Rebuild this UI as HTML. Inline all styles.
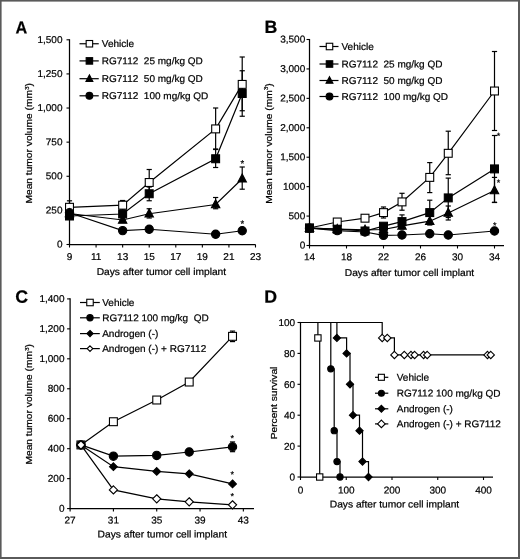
<!DOCTYPE html>
<html lang="en"><head><meta charset="utf-8"><title>Figure</title>
<style>
html,body{margin:0;padding:0;background:#fff;}
body{width:520px;height:559px;overflow:hidden;position:relative;}
svg{display:block;position:absolute;left:0;top:0;}
svg text{font-family:"Liberation Sans",Arial,Helvetica,sans-serif;fill:#000;stroke:#000;stroke-width:0.22px;}
</style></head><body>
<svg width="520" height="559" viewBox="0 0 520 559">
<rect x="0" y="0" width="520" height="559" fill="#fff"/>
<text transform="translate(15.6,33.6) rotate(0.03) scale(0.935,1)" font-size="17.4" text-anchor="start" font-weight="bold" >A</text>
<line x1="69.5" y1="39.25" x2="69.5" y2="245.1" stroke="#000" stroke-width="1.25" />
<line x1="69.5" y1="244.5" x2="255.5" y2="244.5" stroke="#000" stroke-width="1.25" />
<line x1="69.5" y1="244.5" x2="69.5" y2="247.5" stroke="#000" stroke-width="1.1" />
<text transform="translate(69.5,260) rotate(0.03) scale(1.012,1)" font-size="9.9" text-anchor="middle" font-weight="normal" >9</text>
<line x1="96.07" y1="244.5" x2="96.07" y2="247.5" stroke="#000" stroke-width="1.1" />
<text transform="translate(96.07,260) rotate(0.03) scale(1.012,1)" font-size="9.9" text-anchor="middle" font-weight="normal" >11</text>
<line x1="122.64" y1="244.5" x2="122.64" y2="247.5" stroke="#000" stroke-width="1.1" />
<text transform="translate(122.64,260) rotate(0.03) scale(1.012,1)" font-size="9.9" text-anchor="middle" font-weight="normal" >13</text>
<line x1="149.21" y1="244.5" x2="149.21" y2="247.5" stroke="#000" stroke-width="1.1" />
<text transform="translate(149.21,260) rotate(0.03) scale(1.012,1)" font-size="9.9" text-anchor="middle" font-weight="normal" >15</text>
<line x1="175.79" y1="244.5" x2="175.79" y2="247.5" stroke="#000" stroke-width="1.1" />
<text transform="translate(175.79,260) rotate(0.03) scale(1.012,1)" font-size="9.9" text-anchor="middle" font-weight="normal" >17</text>
<line x1="202.36" y1="244.5" x2="202.36" y2="247.5" stroke="#000" stroke-width="1.1" />
<text transform="translate(202.36,260) rotate(0.03) scale(1.012,1)" font-size="9.9" text-anchor="middle" font-weight="normal" >19</text>
<line x1="228.93" y1="244.5" x2="228.93" y2="247.5" stroke="#000" stroke-width="1.1" />
<text transform="translate(228.93,260) rotate(0.03) scale(1.012,1)" font-size="9.9" text-anchor="middle" font-weight="normal" >21</text>
<line x1="255.5" y1="244.5" x2="255.5" y2="247.5" stroke="#000" stroke-width="1.1" />
<text transform="translate(255.5,260) rotate(0.03) scale(1.012,1)" font-size="9.9" text-anchor="middle" font-weight="normal" >23</text>
<line x1="66.5" y1="244.5" x2="69.5" y2="244.5" stroke="#000" stroke-width="1.1" />
<text transform="translate(62.5,247.6) rotate(0.03) scale(1.012,1)" font-size="9.9" text-anchor="end" font-weight="normal" >0</text>
<line x1="66.5" y1="210.38" x2="69.5" y2="210.38" stroke="#000" stroke-width="1.1" />
<text transform="translate(62.5,213.48) rotate(0.03) scale(1.012,1)" font-size="9.9" text-anchor="end" font-weight="normal" >250</text>
<line x1="66.5" y1="176.27" x2="69.5" y2="176.27" stroke="#000" stroke-width="1.1" />
<text transform="translate(62.5,179.37) rotate(0.03) scale(1.012,1)" font-size="9.9" text-anchor="end" font-weight="normal" >500</text>
<line x1="66.5" y1="142.15" x2="69.5" y2="142.15" stroke="#000" stroke-width="1.1" />
<text transform="translate(62.5,145.25) rotate(0.03) scale(1.012,1)" font-size="9.9" text-anchor="end" font-weight="normal" >750</text>
<line x1="66.5" y1="108.03" x2="69.5" y2="108.03" stroke="#000" stroke-width="1.1" />
<text transform="translate(62.5,111.13) rotate(0.03) scale(1.012,1)" font-size="9.9" text-anchor="end" font-weight="normal" >1,000</text>
<line x1="66.5" y1="73.92" x2="69.5" y2="73.92" stroke="#000" stroke-width="1.1" />
<text transform="translate(62.5,77.02) rotate(0.03) scale(1.012,1)" font-size="9.9" text-anchor="end" font-weight="normal" >1,250</text>
<line x1="66.5" y1="39.8" x2="69.5" y2="39.8" stroke="#000" stroke-width="1.1" />
<text transform="translate(62.5,42.9) rotate(0.03) scale(1.012,1)" font-size="9.9" text-anchor="end" font-weight="normal" >1,500</text>
<text transform="translate(161.4,275) rotate(0.03) scale(1.034,1)" font-size="9.9" text-anchor="middle" font-weight="normal" >Days after tumor cell implant</text>
<text transform="translate(31.7,143.3) rotate(-90) scale(1.034,1)" font-size="9.9" text-anchor="middle">Mean tumor volume (mm<tspan font-size="6.2" dy="-3.2">3</tspan><tspan dy="3.2">)</tspan></text>
<line x1="69.5" y1="200.8" x2="69.5" y2="213" stroke="#000" stroke-width="1.2" />
<line x1="66.9" y1="200.8" x2="72.1" y2="200.8" stroke="#000" stroke-width="1.2" />
<line x1="66.9" y1="213" x2="72.1" y2="213" stroke="#000" stroke-width="1.2" />
<line x1="122.64" y1="200.5" x2="122.64" y2="210" stroke="#000" stroke-width="1.2" />
<line x1="120.04" y1="200.5" x2="125.24" y2="200.5" stroke="#000" stroke-width="1.2" />
<line x1="120.04" y1="210" x2="125.24" y2="210" stroke="#000" stroke-width="1.2" />
<line x1="149.21" y1="169.5" x2="149.21" y2="195.5" stroke="#000" stroke-width="1.2" />
<line x1="146.61" y1="169.5" x2="151.81" y2="169.5" stroke="#000" stroke-width="1.2" />
<line x1="146.61" y1="195.5" x2="151.81" y2="195.5" stroke="#000" stroke-width="1.2" />
<line x1="215.64" y1="108" x2="215.64" y2="149" stroke="#000" stroke-width="1.2" />
<line x1="213.04" y1="108" x2="218.24" y2="108" stroke="#000" stroke-width="1.2" />
<line x1="213.04" y1="149" x2="218.24" y2="149" stroke="#000" stroke-width="1.2" />
<line x1="242.21" y1="57" x2="242.21" y2="110.75" stroke="#000" stroke-width="1.2" />
<line x1="239.61" y1="57" x2="244.81" y2="57" stroke="#000" stroke-width="1.2" />
<line x1="239.61" y1="110.75" x2="244.81" y2="110.75" stroke="#000" stroke-width="1.2" />
<line x1="149.21" y1="187" x2="149.21" y2="200.75" stroke="#000" stroke-width="1.2" />
<line x1="146.61" y1="187" x2="151.81" y2="187" stroke="#000" stroke-width="1.2" />
<line x1="146.61" y1="200.75" x2="151.81" y2="200.75" stroke="#000" stroke-width="1.2" />
<line x1="215.64" y1="149.5" x2="215.64" y2="167.5" stroke="#000" stroke-width="1.2" />
<line x1="213.04" y1="149.5" x2="218.24" y2="149.5" stroke="#000" stroke-width="1.2" />
<line x1="213.04" y1="167.5" x2="218.24" y2="167.5" stroke="#000" stroke-width="1.2" />
<line x1="242.21" y1="70.75" x2="242.21" y2="116.25" stroke="#000" stroke-width="1.2" />
<line x1="239.61" y1="70.75" x2="244.81" y2="70.75" stroke="#000" stroke-width="1.2" />
<line x1="239.61" y1="116.25" x2="244.81" y2="116.25" stroke="#000" stroke-width="1.2" />
<line x1="149.21" y1="208.75" x2="149.21" y2="218" stroke="#000" stroke-width="1.2" />
<line x1="146.61" y1="208.75" x2="151.81" y2="208.75" stroke="#000" stroke-width="1.2" />
<line x1="146.61" y1="218" x2="151.81" y2="218" stroke="#000" stroke-width="1.2" />
<line x1="215.64" y1="197.5" x2="215.64" y2="208.75" stroke="#000" stroke-width="1.2" />
<line x1="213.04" y1="197.5" x2="218.24" y2="197.5" stroke="#000" stroke-width="1.2" />
<line x1="213.04" y1="208.75" x2="218.24" y2="208.75" stroke="#000" stroke-width="1.2" />
<line x1="242.21" y1="167" x2="242.21" y2="189.2" stroke="#000" stroke-width="1.2" />
<line x1="239.61" y1="167" x2="244.81" y2="167" stroke="#000" stroke-width="1.2" />
<line x1="239.61" y1="189.2" x2="244.81" y2="189.2" stroke="#000" stroke-width="1.2" />
<polyline points="69.5,207.3 122.64,205.2 149.21,182.5 215.64,128.9 242.21,84.4" fill="none" stroke="#000" stroke-width="1.2"/>
<polyline points="69.5,216 122.64,214 149.21,193.75 215.64,158.75 242.21,93.5" fill="none" stroke="#000" stroke-width="1.2"/>
<polyline points="69.5,213.5 122.64,220 149.21,213.75 215.64,204.5 242.21,178.75" fill="none" stroke="#000" stroke-width="1.2"/>
<polyline points="69.5,212.8 122.64,230.6 149.21,229.25 215.64,234.25 242.21,230.75" fill="none" stroke="#000" stroke-width="1.2"/>
<rect x="65.55" y="203.35" width="7.9" height="7.9" fill="#fff" stroke="#000" stroke-width="1.1"/>
<rect x="118.69" y="201.25" width="7.9" height="7.9" fill="#fff" stroke="#000" stroke-width="1.1"/>
<rect x="145.26" y="178.55" width="7.9" height="7.9" fill="#fff" stroke="#000" stroke-width="1.1"/>
<rect x="211.69" y="124.95" width="7.9" height="7.9" fill="#fff" stroke="#000" stroke-width="1.1"/>
<rect x="238.26" y="80.45" width="7.9" height="7.9" fill="#fff" stroke="#000" stroke-width="1.1"/>
<rect x="65.55" y="212.05" width="7.9" height="7.9" fill="#000" stroke="#000" stroke-width="1.1"/>
<rect x="118.69" y="210.05" width="7.9" height="7.9" fill="#000" stroke="#000" stroke-width="1.1"/>
<rect x="145.26" y="189.8" width="7.9" height="7.9" fill="#000" stroke="#000" stroke-width="1.1"/>
<rect x="211.69" y="154.8" width="7.9" height="7.9" fill="#000" stroke="#000" stroke-width="1.1"/>
<rect x="238.26" y="89.55" width="7.9" height="7.9" fill="#000" stroke="#000" stroke-width="1.1"/>
<polygon points="69.5,208.8 73.7,216.8 65.3,216.8" fill="#000" stroke="#000" stroke-width="1.1"/>
<polygon points="122.64,215.3 126.84,223.3 118.44,223.3" fill="#000" stroke="#000" stroke-width="1.1"/>
<polygon points="149.21,209.05 153.41,217.05 145.01,217.05" fill="#000" stroke="#000" stroke-width="1.1"/>
<polygon points="215.64,199.8 219.84,207.8 211.44,207.8" fill="#000" stroke="#000" stroke-width="1.1"/>
<polygon points="242.21,174.05 246.41,182.05 238.01,182.05" fill="#000" stroke="#000" stroke-width="1.1"/>
<circle cx="69.5" cy="212.8" r="4.15" fill="#000" stroke="#000" stroke-width="1.1"/>
<circle cx="122.64" cy="230.6" r="4.15" fill="#000" stroke="#000" stroke-width="1.1"/>
<circle cx="149.21" cy="229.25" r="4.15" fill="#000" stroke="#000" stroke-width="1.1"/>
<circle cx="215.64" cy="234.25" r="4.15" fill="#000" stroke="#000" stroke-width="1.1"/>
<circle cx="242.21" cy="230.75" r="4.15" fill="#000" stroke="#000" stroke-width="1.1"/>
<text transform="translate(242.3,166.69) rotate(0.03) scale(1,1)" font-size="9.5" text-anchor="middle" font-weight="normal" stroke-width="0.25">*</text>
<text transform="translate(242.3,227.09) rotate(0.03) scale(1,1)" font-size="9.5" text-anchor="middle" font-weight="normal" stroke-width="0.25">*</text>
<line x1="79.5" y1="43.75" x2="98.75" y2="43.75" stroke="#000" stroke-width="1.2" />
<rect x="86.16" y="40.51" width="6.48" height="6.48" fill="#fff" stroke="#000" stroke-width="1.1"/>
<text transform="translate(101.8,47.05) rotate(0.03) scale(1.012,1)" font-size="9.9" text-anchor="start" font-weight="normal" xml:space="preserve">Vehicle</text>
<line x1="79.5" y1="60.9" x2="98.75" y2="60.9" stroke="#000" stroke-width="1.2" />
<rect x="86.16" y="57.66" width="6.48" height="6.48" fill="#000" stroke="#000" stroke-width="1.1"/>
<text transform="translate(101.8,64.2) rotate(0.03) scale(1.012,1)" font-size="9.9" text-anchor="start" font-weight="normal" xml:space="preserve">RG7112  25 mg/kg QD</text>
<line x1="79.5" y1="78.7" x2="98.75" y2="78.7" stroke="#000" stroke-width="1.2" />
<polygon points="89.4,74.85 92.84,81.41 85.96,81.41" fill="#000" stroke="#000" stroke-width="1.1"/>
<text transform="translate(101.8,82) rotate(0.03) scale(1.012,1)" font-size="9.9" text-anchor="start" font-weight="normal" xml:space="preserve">RG7112  50 mg/kg QD</text>
<line x1="79.5" y1="95.8" x2="98.75" y2="95.8" stroke="#000" stroke-width="1.2" />
<circle cx="89.4" cy="95.8" r="3.4" fill="#000" stroke="#000" stroke-width="1.1"/>
<text transform="translate(101.8,99.1) rotate(0.03) scale(1.012,1)" font-size="9.9" text-anchor="start" font-weight="normal" xml:space="preserve">RG7112  100 mg/kg QD</text>
<text transform="translate(264.5,33) rotate(0.03) scale(1.0,1)" font-size="17.8" text-anchor="start" font-weight="bold" >B</text>
<line x1="309.5" y1="38.95" x2="309.5" y2="246.1" stroke="#000" stroke-width="1.25" />
<line x1="309.5" y1="245.5" x2="504" y2="245.5" stroke="#000" stroke-width="1.25" />
<line x1="309.5" y1="245.5" x2="309.5" y2="248.5" stroke="#000" stroke-width="1.1" />
<text transform="translate(309.5,260.2) rotate(0.03) scale(1.012,1)" font-size="9.9" text-anchor="middle" font-weight="normal" >14</text>
<line x1="346.5" y1="245.5" x2="346.5" y2="248.5" stroke="#000" stroke-width="1.1" />
<text transform="translate(346.5,260.2) rotate(0.03) scale(1.012,1)" font-size="9.9" text-anchor="middle" font-weight="normal" >18</text>
<line x1="383.5" y1="245.5" x2="383.5" y2="248.5" stroke="#000" stroke-width="1.1" />
<text transform="translate(383.5,260.2) rotate(0.03) scale(1.012,1)" font-size="9.9" text-anchor="middle" font-weight="normal" >22</text>
<line x1="420.5" y1="245.5" x2="420.5" y2="248.5" stroke="#000" stroke-width="1.1" />
<text transform="translate(420.5,260.2) rotate(0.03) scale(1.012,1)" font-size="9.9" text-anchor="middle" font-weight="normal" >26</text>
<line x1="457.5" y1="245.5" x2="457.5" y2="248.5" stroke="#000" stroke-width="1.1" />
<text transform="translate(457.5,260.2) rotate(0.03) scale(1.012,1)" font-size="9.9" text-anchor="middle" font-weight="normal" >30</text>
<line x1="494.5" y1="245.5" x2="494.5" y2="248.5" stroke="#000" stroke-width="1.1" />
<text transform="translate(494.5,260.2) rotate(0.03) scale(1.012,1)" font-size="9.9" text-anchor="middle" font-weight="normal" >34</text>
<line x1="306.5" y1="245.5" x2="309.5" y2="245.5" stroke="#000" stroke-width="1.1" />
<text transform="translate(305.2,248.6) rotate(0.03) scale(1.012,1)" font-size="9.9" text-anchor="end" font-weight="normal" >0</text>
<line x1="306.5" y1="216.07" x2="309.5" y2="216.07" stroke="#000" stroke-width="1.1" />
<text transform="translate(305.2,219.17) rotate(0.03) scale(1.012,1)" font-size="9.9" text-anchor="end" font-weight="normal" >500</text>
<line x1="306.5" y1="186.64" x2="309.5" y2="186.64" stroke="#000" stroke-width="1.1" />
<text transform="translate(305.2,189.74) rotate(0.03) scale(1.012,1)" font-size="9.9" text-anchor="end" font-weight="normal" >1000</text>
<line x1="306.5" y1="157.21" x2="309.5" y2="157.21" stroke="#000" stroke-width="1.1" />
<text transform="translate(305.2,160.31) rotate(0.03) scale(1.012,1)" font-size="9.9" text-anchor="end" font-weight="normal" >1,500</text>
<line x1="306.5" y1="127.79" x2="309.5" y2="127.79" stroke="#000" stroke-width="1.1" />
<text transform="translate(305.2,130.89) rotate(0.03) scale(1.012,1)" font-size="9.9" text-anchor="end" font-weight="normal" >2,000</text>
<line x1="306.5" y1="98.36" x2="309.5" y2="98.36" stroke="#000" stroke-width="1.1" />
<text transform="translate(305.2,101.46) rotate(0.03) scale(1.012,1)" font-size="9.9" text-anchor="end" font-weight="normal" >2,500</text>
<line x1="306.5" y1="68.93" x2="309.5" y2="68.93" stroke="#000" stroke-width="1.1" />
<text transform="translate(305.2,72.03) rotate(0.03) scale(1.012,1)" font-size="9.9" text-anchor="end" font-weight="normal" >3,000</text>
<line x1="306.5" y1="39.5" x2="309.5" y2="39.5" stroke="#000" stroke-width="1.1" />
<text transform="translate(305.2,42.6) rotate(0.03) scale(1.012,1)" font-size="9.9" text-anchor="end" font-weight="normal" >3,500</text>
<text transform="translate(409.5,276) rotate(0.03) scale(1.034,1)" font-size="9.9" text-anchor="middle" font-weight="normal" >Days after tumor cell implant</text>
<text transform="translate(271.6,143.6) rotate(-90) scale(1.034,1)" font-size="9.9" text-anchor="middle">Mean tumor volume (mm<tspan font-size="6.2" dy="-3.2">3</tspan><tspan dy="3.2">)</tspan></text>
<line x1="494.5" y1="51.5" x2="494.5" y2="130.5" stroke="#000" stroke-width="1.2" />
<line x1="491.9" y1="51.5" x2="497.1" y2="51.5" stroke="#000" stroke-width="1.2" />
<line x1="491.9" y1="130.5" x2="497.1" y2="130.5" stroke="#000" stroke-width="1.2" />
<line x1="448.25" y1="131.2" x2="448.25" y2="174.7" stroke="#000" stroke-width="1.2" />
<line x1="445.65" y1="131.2" x2="450.85" y2="131.2" stroke="#000" stroke-width="1.2" />
<line x1="445.65" y1="174.7" x2="450.85" y2="174.7" stroke="#000" stroke-width="1.2" />
<line x1="429.75" y1="162.6" x2="429.75" y2="192.6" stroke="#000" stroke-width="1.2" />
<line x1="427.15" y1="162.6" x2="432.35" y2="162.6" stroke="#000" stroke-width="1.2" />
<line x1="427.15" y1="192.6" x2="432.35" y2="192.6" stroke="#000" stroke-width="1.2" />
<line x1="402" y1="193.3" x2="402" y2="210.2" stroke="#000" stroke-width="1.2" />
<line x1="399.4" y1="193.3" x2="404.6" y2="193.3" stroke="#000" stroke-width="1.2" />
<line x1="399.4" y1="210.2" x2="404.6" y2="210.2" stroke="#000" stroke-width="1.2" />
<line x1="383.5" y1="207" x2="383.5" y2="218" stroke="#000" stroke-width="1.2" />
<line x1="380.9" y1="207" x2="386.1" y2="207" stroke="#000" stroke-width="1.2" />
<line x1="380.9" y1="218" x2="386.1" y2="218" stroke="#000" stroke-width="1.2" />
<line x1="448.25" y1="178.1" x2="448.25" y2="217.5" stroke="#000" stroke-width="1.2" />
<line x1="445.65" y1="178.1" x2="450.85" y2="178.1" stroke="#000" stroke-width="1.2" />
<line x1="445.65" y1="217.5" x2="450.85" y2="217.5" stroke="#000" stroke-width="1.2" />
<line x1="448.25" y1="206" x2="448.25" y2="220" stroke="#000" stroke-width="1.2" />
<line x1="445.65" y1="206" x2="450.85" y2="206" stroke="#000" stroke-width="1.2" />
<line x1="445.65" y1="220" x2="450.85" y2="220" stroke="#000" stroke-width="1.2" />
<line x1="429.75" y1="200.2" x2="429.75" y2="225" stroke="#000" stroke-width="1.2" />
<line x1="427.15" y1="200.2" x2="432.35" y2="200.2" stroke="#000" stroke-width="1.2" />
<line x1="427.15" y1="225" x2="432.35" y2="225" stroke="#000" stroke-width="1.2" />
<line x1="402" y1="214.9" x2="402" y2="229" stroke="#000" stroke-width="1.2" />
<line x1="399.4" y1="214.9" x2="404.6" y2="214.9" stroke="#000" stroke-width="1.2" />
<line x1="399.4" y1="229" x2="404.6" y2="229" stroke="#000" stroke-width="1.2" />
<line x1="494.5" y1="135.5" x2="494.5" y2="202.3" stroke="#000" stroke-width="1.2" />
<line x1="491.9" y1="135.5" x2="497.1" y2="135.5" stroke="#000" stroke-width="1.2" />
<line x1="491.9" y1="202.3" x2="497.1" y2="202.3" stroke="#000" stroke-width="1.2" />
<line x1="494.5" y1="177.4" x2="494.5" y2="202.5" stroke="#000" stroke-width="1.2" />
<line x1="491.9" y1="177.4" x2="497.1" y2="177.4" stroke="#000" stroke-width="1.2" />
<line x1="491.9" y1="202.5" x2="497.1" y2="202.5" stroke="#000" stroke-width="1.2" />
<polyline points="309.5,228 337.25,222 365,218.2 383.5,212.6 402,201.9 429.75,177.4 448.25,153.3 494.5,91" fill="none" stroke="#000" stroke-width="1.2"/>
<polyline points="309.5,228.2 337.25,229.2 365,231 383.5,226.2 402,221.6 429.75,212.6 448.25,197.9 494.5,168.9" fill="none" stroke="#000" stroke-width="1.2"/>
<polyline points="309.5,228.2 337.25,229.2 365,229.8 383.5,229.5 402,225.8 429.75,221.2 448.25,213 494.5,190.5" fill="none" stroke="#000" stroke-width="1.2"/>
<polyline points="309.5,228.2 337.25,230.6 365,232 383.5,235.4 402,235 429.75,233.75 448.25,235 494.5,231" fill="none" stroke="#000" stroke-width="1.2"/>
<rect x="305.55" y="224.05" width="7.9" height="7.9" fill="#fff" stroke="#000" stroke-width="1.1"/>
<rect x="333.3" y="218.05" width="7.9" height="7.9" fill="#fff" stroke="#000" stroke-width="1.1"/>
<rect x="361.05" y="214.25" width="7.9" height="7.9" fill="#fff" stroke="#000" stroke-width="1.1"/>
<rect x="379.55" y="208.65" width="7.9" height="7.9" fill="#fff" stroke="#000" stroke-width="1.1"/>
<rect x="398.05" y="197.95" width="7.9" height="7.9" fill="#fff" stroke="#000" stroke-width="1.1"/>
<rect x="425.8" y="173.45" width="7.9" height="7.9" fill="#fff" stroke="#000" stroke-width="1.1"/>
<rect x="444.3" y="149.35" width="7.9" height="7.9" fill="#fff" stroke="#000" stroke-width="1.1"/>
<rect x="490.55" y="87.05" width="7.9" height="7.9" fill="#fff" stroke="#000" stroke-width="1.1"/>
<rect x="305.55" y="224.25" width="7.9" height="7.9" fill="#000" stroke="#000" stroke-width="1.1"/>
<rect x="333.3" y="225.25" width="7.9" height="7.9" fill="#000" stroke="#000" stroke-width="1.1"/>
<rect x="361.05" y="227.05" width="7.9" height="7.9" fill="#000" stroke="#000" stroke-width="1.1"/>
<rect x="379.55" y="222.25" width="7.9" height="7.9" fill="#000" stroke="#000" stroke-width="1.1"/>
<rect x="398.05" y="217.65" width="7.9" height="7.9" fill="#000" stroke="#000" stroke-width="1.1"/>
<rect x="425.8" y="208.65" width="7.9" height="7.9" fill="#000" stroke="#000" stroke-width="1.1"/>
<rect x="444.3" y="193.95" width="7.9" height="7.9" fill="#000" stroke="#000" stroke-width="1.1"/>
<rect x="490.55" y="164.95" width="7.9" height="7.9" fill="#000" stroke="#000" stroke-width="1.1"/>
<polygon points="309.5,223.5 313.7,231.5 305.3,231.5" fill="#000" stroke="#000" stroke-width="1.1"/>
<polygon points="337.25,224.5 341.45,232.5 333.05,232.5" fill="#000" stroke="#000" stroke-width="1.1"/>
<polygon points="365,225.1 369.2,233.1 360.8,233.1" fill="#000" stroke="#000" stroke-width="1.1"/>
<polygon points="383.5,224.8 387.7,232.8 379.3,232.8" fill="#000" stroke="#000" stroke-width="1.1"/>
<polygon points="402,221.1 406.2,229.1 397.8,229.1" fill="#000" stroke="#000" stroke-width="1.1"/>
<polygon points="429.75,216.5 433.95,224.5 425.55,224.5" fill="#000" stroke="#000" stroke-width="1.1"/>
<polygon points="448.25,208.3 452.45,216.3 444.05,216.3" fill="#000" stroke="#000" stroke-width="1.1"/>
<polygon points="494.5,185.8 498.7,193.8 490.3,193.8" fill="#000" stroke="#000" stroke-width="1.1"/>
<circle cx="309.5" cy="228.2" r="4.15" fill="#000" stroke="#000" stroke-width="1.1"/>
<circle cx="337.25" cy="230.6" r="4.15" fill="#000" stroke="#000" stroke-width="1.1"/>
<circle cx="365" cy="232" r="4.15" fill="#000" stroke="#000" stroke-width="1.1"/>
<circle cx="383.5" cy="235.4" r="4.15" fill="#000" stroke="#000" stroke-width="1.1"/>
<circle cx="402" cy="235" r="4.15" fill="#000" stroke="#000" stroke-width="1.1"/>
<circle cx="429.75" cy="233.75" r="4.15" fill="#000" stroke="#000" stroke-width="1.1"/>
<circle cx="448.25" cy="235" r="4.15" fill="#000" stroke="#000" stroke-width="1.1"/>
<circle cx="494.5" cy="231" r="4.15" fill="#000" stroke="#000" stroke-width="1.1"/>
<text transform="translate(498.6,139.08) rotate(0.03) scale(1,1)" font-size="9" text-anchor="middle" font-weight="normal" stroke-width="0.25">*</text>
<text transform="translate(498.6,185.78) rotate(0.03) scale(1,1)" font-size="9" text-anchor="middle" font-weight="normal" stroke-width="0.25">*</text>
<text transform="translate(494.7,228.48) rotate(0.03) scale(1,1)" font-size="9" text-anchor="middle" font-weight="normal" stroke-width="0.25">*</text>
<line x1="319.5" y1="46.5" x2="338.5" y2="46.5" stroke="#000" stroke-width="1.2" />
<rect x="326.26" y="43.26" width="6.48" height="6.48" fill="#fff" stroke="#000" stroke-width="1.1"/>
<text transform="translate(341.5,49.9) rotate(0.03) scale(1.012,1)" font-size="9.9" text-anchor="start" font-weight="normal" xml:space="preserve">Vehicle</text>
<line x1="319.5" y1="64" x2="338.5" y2="64" stroke="#000" stroke-width="1.2" />
<rect x="326.26" y="60.76" width="6.48" height="6.48" fill="#000" stroke="#000" stroke-width="1.1"/>
<text transform="translate(341.5,67.4) rotate(0.03) scale(1.012,1)" font-size="9.9" text-anchor="start" font-weight="normal" xml:space="preserve">RG7112  25 mg/kg QD</text>
<line x1="319.5" y1="80.5" x2="338.5" y2="80.5" stroke="#000" stroke-width="1.2" />
<polygon points="329.5,76.65 332.94,83.21 326.06,83.21" fill="#000" stroke="#000" stroke-width="1.1"/>
<text transform="translate(341.5,83.9) rotate(0.03) scale(1.012,1)" font-size="9.9" text-anchor="start" font-weight="normal" xml:space="preserve">RG7112  50 mg/kg QD</text>
<line x1="319.5" y1="96.5" x2="338.5" y2="96.5" stroke="#000" stroke-width="1.2" />
<circle cx="329.5" cy="96.5" r="3.4" fill="#000" stroke="#000" stroke-width="1.1"/>
<text transform="translate(341.5,99.9) rotate(0.03) scale(1.012,1)" font-size="9.9" text-anchor="start" font-weight="normal" xml:space="preserve">RG7112  100 mg/kg QD</text>
<text transform="translate(15.2,302.7) rotate(0.03) scale(1.0,1)" font-size="17.8" text-anchor="start" font-weight="bold" >C</text>
<line x1="70.1" y1="298.35" x2="70.1" y2="509.2" stroke="#000" stroke-width="1.25" />
<line x1="70.1" y1="508.6" x2="254" y2="508.6" stroke="#000" stroke-width="1.25" />
<line x1="70.1" y1="508.6" x2="70.1" y2="511.6" stroke="#000" stroke-width="1.1" />
<text transform="translate(70.1,523.6) rotate(0.03) scale(1.012,1)" font-size="9.9" text-anchor="middle" font-weight="normal" >27</text>
<line x1="113.41" y1="508.6" x2="113.41" y2="511.6" stroke="#000" stroke-width="1.1" />
<text transform="translate(113.41,523.6) rotate(0.03) scale(1.012,1)" font-size="9.9" text-anchor="middle" font-weight="normal" >31</text>
<line x1="156.72" y1="508.6" x2="156.72" y2="511.6" stroke="#000" stroke-width="1.1" />
<text transform="translate(156.72,523.6) rotate(0.03) scale(1.012,1)" font-size="9.9" text-anchor="middle" font-weight="normal" >35</text>
<line x1="200.04" y1="508.6" x2="200.04" y2="511.6" stroke="#000" stroke-width="1.1" />
<text transform="translate(200.04,523.6) rotate(0.03) scale(1.012,1)" font-size="9.9" text-anchor="middle" font-weight="normal" >39</text>
<line x1="243.35" y1="508.6" x2="243.35" y2="511.6" stroke="#000" stroke-width="1.1" />
<text transform="translate(243.35,523.6) rotate(0.03) scale(1.012,1)" font-size="9.9" text-anchor="middle" font-weight="normal" >43</text>
<line x1="67.1" y1="508.6" x2="70.1" y2="508.6" stroke="#000" stroke-width="1.1" />
<text transform="translate(64.5,511.7) rotate(0.03) scale(1.012,1)" font-size="9.9" text-anchor="end" font-weight="normal" >0</text>
<line x1="67.1" y1="478.64" x2="70.1" y2="478.64" stroke="#000" stroke-width="1.1" />
<text transform="translate(64.5,481.74) rotate(0.03) scale(1.012,1)" font-size="9.9" text-anchor="end" font-weight="normal" >200</text>
<line x1="67.1" y1="448.69" x2="70.1" y2="448.69" stroke="#000" stroke-width="1.1" />
<text transform="translate(64.5,451.79) rotate(0.03) scale(1.012,1)" font-size="9.9" text-anchor="end" font-weight="normal" >400</text>
<line x1="67.1" y1="418.73" x2="70.1" y2="418.73" stroke="#000" stroke-width="1.1" />
<text transform="translate(64.5,421.83) rotate(0.03) scale(1.012,1)" font-size="9.9" text-anchor="end" font-weight="normal" >600</text>
<line x1="67.1" y1="388.77" x2="70.1" y2="388.77" stroke="#000" stroke-width="1.1" />
<text transform="translate(64.5,391.87) rotate(0.03) scale(1.012,1)" font-size="9.9" text-anchor="end" font-weight="normal" >800</text>
<line x1="67.1" y1="358.81" x2="70.1" y2="358.81" stroke="#000" stroke-width="1.1" />
<text transform="translate(64.5,361.91) rotate(0.03) scale(1.012,1)" font-size="9.9" text-anchor="end" font-weight="normal" >1,000</text>
<line x1="67.1" y1="328.86" x2="70.1" y2="328.86" stroke="#000" stroke-width="1.1" />
<text transform="translate(64.5,331.96) rotate(0.03) scale(1.012,1)" font-size="9.9" text-anchor="end" font-weight="normal" >1,200</text>
<line x1="67.1" y1="298.9" x2="70.1" y2="298.9" stroke="#000" stroke-width="1.1" />
<text transform="translate(64.5,302) rotate(0.03) scale(1.012,1)" font-size="9.9" text-anchor="end" font-weight="normal" >1,400</text>
<text transform="translate(162.3,537.5) rotate(0.03) scale(1.034,1)" font-size="9.9" text-anchor="middle" font-weight="normal" >Days after tumor cell implant</text>
<text transform="translate(32.2,404.3) rotate(-90) scale(1.034,1)" font-size="9.9" text-anchor="middle">Mean tumor volume (mm<tspan font-size="6.2" dy="-3.2">3</tspan><tspan dy="3.2">)</tspan></text>
<line x1="232.52" y1="331.1" x2="232.52" y2="341.59" stroke="#000" stroke-width="1.2" />
<line x1="229.92" y1="331.1" x2="235.12" y2="331.1" stroke="#000" stroke-width="1.2" />
<line x1="229.92" y1="341.59" x2="235.12" y2="341.59" stroke="#000" stroke-width="1.2" />
<line x1="232.52" y1="441.95" x2="232.52" y2="451.68" stroke="#000" stroke-width="1.2" />
<line x1="229.92" y1="441.95" x2="235.12" y2="441.95" stroke="#000" stroke-width="1.2" />
<line x1="229.92" y1="451.68" x2="235.12" y2="451.68" stroke="#000" stroke-width="1.2" />
<polyline points="80.93,444.94 113.41,421.72 156.72,400.01 189.21,382.03 232.52,336.35" fill="none" stroke="#000" stroke-width="1.2"/>
<polyline points="80.93,444.94 113.41,456.18 156.72,455.43 189.21,451.98 232.52,446.89" fill="none" stroke="#000" stroke-width="1.2"/>
<polyline points="80.93,444.94 113.41,466.66 156.72,471.45 189.21,473.85 232.52,483.89" fill="none" stroke="#000" stroke-width="1.2"/>
<polyline points="80.93,444.94 113.41,489.88 156.72,498.86 189.21,501.86 232.52,504.86" fill="none" stroke="#000" stroke-width="1.2"/>
<rect x="76.98" y="440.99" width="7.9" height="7.9" fill="#fff" stroke="#000" stroke-width="1.1"/>
<rect x="109.46" y="417.77" width="7.9" height="7.9" fill="#fff" stroke="#000" stroke-width="1.1"/>
<rect x="152.78" y="396.06" width="7.9" height="7.9" fill="#fff" stroke="#000" stroke-width="1.1"/>
<rect x="185.26" y="378.08" width="7.9" height="7.9" fill="#fff" stroke="#000" stroke-width="1.1"/>
<rect x="228.57" y="332.4" width="7.9" height="7.9" fill="#fff" stroke="#000" stroke-width="1.1"/>
<circle cx="80.93" cy="444.94" r="4.15" fill="#000" stroke="#000" stroke-width="1.1"/>
<circle cx="113.41" cy="456.18" r="4.15" fill="#000" stroke="#000" stroke-width="1.1"/>
<circle cx="156.72" cy="455.43" r="4.15" fill="#000" stroke="#000" stroke-width="1.1"/>
<circle cx="189.21" cy="451.98" r="4.15" fill="#000" stroke="#000" stroke-width="1.1"/>
<circle cx="232.52" cy="446.89" r="4.15" fill="#000" stroke="#000" stroke-width="1.1"/>
<polygon points="80.93,441.05 84.82,444.94 80.93,448.83 77.04,444.94" fill="#000" stroke="#000" stroke-width="1.1"/>
<polygon points="113.41,462.77 117.3,466.66 113.41,470.55 109.52,466.66" fill="#000" stroke="#000" stroke-width="1.1"/>
<polygon points="156.72,467.57 160.61,471.45 156.72,475.34 152.84,471.45" fill="#000" stroke="#000" stroke-width="1.1"/>
<polygon points="189.21,469.96 193.1,473.85 189.21,477.74 185.32,473.85" fill="#000" stroke="#000" stroke-width="1.1"/>
<polygon points="232.52,480 236.41,483.89 232.52,487.77 228.63,483.89" fill="#000" stroke="#000" stroke-width="1.1"/>
<polygon points="80.93,440.84 85.03,444.94 80.93,449.05 76.82,444.94" fill="#fff" stroke="#000" stroke-width="1.1"/>
<polygon points="113.41,485.77 117.52,489.88 113.41,493.98 109.31,489.88" fill="#fff" stroke="#000" stroke-width="1.1"/>
<polygon points="156.72,494.76 160.83,498.86 156.72,502.97 152.62,498.86" fill="#fff" stroke="#000" stroke-width="1.1"/>
<polygon points="189.21,497.76 193.31,501.86 189.21,505.96 185.11,501.86" fill="#fff" stroke="#000" stroke-width="1.1"/>
<polygon points="232.52,500.75 236.63,504.86 232.52,508.96 228.42,504.86" fill="#fff" stroke="#000" stroke-width="1.1"/>
<text transform="translate(232.2,441.18) rotate(0.03) scale(1,1)" font-size="9" text-anchor="middle" font-weight="normal" stroke-width="0.25">*</text>
<text transform="translate(232.2,477.48) rotate(0.03) scale(1,1)" font-size="9" text-anchor="middle" font-weight="normal" stroke-width="0.25">*</text>
<text transform="translate(232.2,499.18) rotate(0.03) scale(1,1)" font-size="9" text-anchor="middle" font-weight="normal" stroke-width="0.25">*</text>
<line x1="80" y1="302.5" x2="99.8" y2="302.5" stroke="#000" stroke-width="1.2" />
<rect x="86.76" y="299.26" width="6.48" height="6.48" fill="#fff" stroke="#000" stroke-width="1.1"/>
<text transform="translate(102.2,305.9) rotate(0.03) scale(1.012,1)" font-size="9.9" text-anchor="start" font-weight="normal" xml:space="preserve">Vehicle</text>
<line x1="80" y1="317.8" x2="99.8" y2="317.8" stroke="#000" stroke-width="1.2" />
<circle cx="90" cy="317.8" r="3.15" fill="#000" stroke="#000" stroke-width="1.1"/>
<text transform="translate(102.2,321.2) rotate(0.03) scale(1.012,1)" font-size="9.9" text-anchor="start" font-weight="normal" xml:space="preserve">RG7112 100 mg/kg  QD</text>
<line x1="80" y1="333.6" x2="99.8" y2="333.6" stroke="#000" stroke-width="1.2" />
<polygon points="90,330.5 93.1,333.6 90,336.7 86.9,333.6" fill="#000" stroke="#000" stroke-width="1.1"/>
<text transform="translate(102.2,337) rotate(0.03) scale(1.012,1)" font-size="9.9" text-anchor="start" font-weight="normal" xml:space="preserve">Androgen (-)</text>
<line x1="80" y1="348.6" x2="99.8" y2="348.6" stroke="#000" stroke-width="1.2" />
<polygon points="90,345.79 92.81,348.6 90,351.41 87.19,348.6" fill="#fff" stroke="#000" stroke-width="1.1"/>
<text transform="translate(102.2,352) rotate(0.03) scale(1.012,1)" font-size="9.9" text-anchor="start" font-weight="normal" xml:space="preserve">Androgen (-) + RG7112</text>
<text transform="translate(264.2,302.7) rotate(0.03) scale(1.0,1)" font-size="17.8" text-anchor="start" font-weight="bold" >D</text>
<line x1="300.5" y1="321.95" x2="300.5" y2="477.6" stroke="#000" stroke-width="1.25" />
<line x1="300.5" y1="477" x2="493" y2="477" stroke="#000" stroke-width="1.25" />
<line x1="300.5" y1="477" x2="300.5" y2="480" stroke="#000" stroke-width="1.1" />
<text transform="translate(300.5,493.5) rotate(0.03) scale(1.012,1)" font-size="9.9" text-anchor="middle" font-weight="normal" >0</text>
<line x1="346.25" y1="477" x2="346.25" y2="480" stroke="#000" stroke-width="1.1" />
<text transform="translate(346.25,493.5) rotate(0.03) scale(1.012,1)" font-size="9.9" text-anchor="middle" font-weight="normal" >100</text>
<line x1="392" y1="477" x2="392" y2="480" stroke="#000" stroke-width="1.1" />
<text transform="translate(392,493.5) rotate(0.03) scale(1.012,1)" font-size="9.9" text-anchor="middle" font-weight="normal" >200</text>
<line x1="437.75" y1="477" x2="437.75" y2="480" stroke="#000" stroke-width="1.1" />
<text transform="translate(437.75,493.5) rotate(0.03) scale(1.012,1)" font-size="9.9" text-anchor="middle" font-weight="normal" >300</text>
<line x1="483.5" y1="477" x2="483.5" y2="480" stroke="#000" stroke-width="1.1" />
<text transform="translate(483.5,493.5) rotate(0.03) scale(1.012,1)" font-size="9.9" text-anchor="middle" font-weight="normal" >400</text>
<line x1="297.5" y1="477" x2="300.5" y2="477" stroke="#000" stroke-width="1.1" />
<text transform="translate(295.1,480.6) rotate(0.03) scale(1.012,1)" font-size="9.9" text-anchor="end" font-weight="normal" >0</text>
<line x1="297.5" y1="446.1" x2="300.5" y2="446.1" stroke="#000" stroke-width="1.1" />
<text transform="translate(295.1,449.7) rotate(0.03) scale(1.012,1)" font-size="9.9" text-anchor="end" font-weight="normal" >20</text>
<line x1="297.5" y1="415.2" x2="300.5" y2="415.2" stroke="#000" stroke-width="1.1" />
<text transform="translate(295.1,418.8) rotate(0.03) scale(1.012,1)" font-size="9.9" text-anchor="end" font-weight="normal" >40</text>
<line x1="297.5" y1="384.3" x2="300.5" y2="384.3" stroke="#000" stroke-width="1.1" />
<text transform="translate(295.1,387.9) rotate(0.03) scale(1.012,1)" font-size="9.9" text-anchor="end" font-weight="normal" >60</text>
<line x1="297.5" y1="353.4" x2="300.5" y2="353.4" stroke="#000" stroke-width="1.1" />
<text transform="translate(295.1,357) rotate(0.03) scale(1.012,1)" font-size="9.9" text-anchor="end" font-weight="normal" >80</text>
<line x1="297.5" y1="322.5" x2="300.5" y2="322.5" stroke="#000" stroke-width="1.1" />
<text transform="translate(295.1,326.1) rotate(0.03) scale(1.012,1)" font-size="9.9" text-anchor="end" font-weight="normal" >100</text>
<text transform="translate(394.5,507.5) rotate(0.03) scale(1.034,1)" font-size="9.9" text-anchor="middle" font-weight="normal" >Days after tumor cell implant</text>
<text transform="translate(276.8,403) rotate(-90) scale(1.034,1)" font-size="9.9" text-anchor="middle">Percent survival</text>
<polyline points="300.5,322.5 382.2,322.5 382.2,337.95 394.4,337.95 394.4,354.94 404.3,354.94 411,354.94 414.6,354.94 423.6,354.94 427.2,354.94 487.5,354.94 490.75,354.94" fill="none" stroke="#000" stroke-width="1.2"/>
<polygon points="382.2,334.28 385.87,337.95 382.2,341.62 378.53,337.95" fill="#fff" stroke="#000" stroke-width="1.1"/>
<polygon points="394.4,351.27 398.07,354.94 394.4,358.62 390.73,354.94" fill="#fff" stroke="#000" stroke-width="1.1"/>
<polygon points="387.3,334.28 390.97,337.95 387.3,341.62 383.63,337.95" fill="#fff" stroke="#000" stroke-width="1.1"/>
<polygon points="404.3,351.27 407.97,354.94 404.3,358.62 400.63,354.94" fill="#fff" stroke="#000" stroke-width="1.1"/>
<polygon points="411,351.27 414.67,354.94 411,358.62 407.33,354.94" fill="#fff" stroke="#000" stroke-width="1.1"/>
<polygon points="414.6,351.27 418.27,354.94 414.6,358.62 410.93,354.94" fill="#fff" stroke="#000" stroke-width="1.1"/>
<polygon points="423.6,351.27 427.27,354.94 423.6,358.62 419.93,354.94" fill="#fff" stroke="#000" stroke-width="1.1"/>
<polygon points="427.2,351.27 430.87,354.94 427.2,358.62 423.53,354.94" fill="#fff" stroke="#000" stroke-width="1.1"/>
<polygon points="487.5,351.27 491.17,354.94 487.5,358.62 483.83,354.94" fill="#fff" stroke="#000" stroke-width="1.1"/>
<polygon points="490.75,351.27 494.42,354.94 490.75,358.62 487.08,354.94" fill="#fff" stroke="#000" stroke-width="1.1"/>
<polyline points="300.5,322.5 336.9,322.5 336.9,337.95 346.6,337.95 346.6,353.4 350,353.4 350,384.3 353,384.3 353,415.2 359.5,415.2 359.5,430.65 362.5,430.65 362.5,461.55 368.5,461.55 368.5,477" fill="none" stroke="#000" stroke-width="1.2"/>
<polygon points="336.9,334.35 340.5,337.95 336.9,341.55 333.3,337.95" fill="#000" stroke="#000" stroke-width="1.1"/>
<polygon points="346.6,349.8 350.2,353.4 346.6,357 343,353.4" fill="#000" stroke="#000" stroke-width="1.1"/>
<polygon points="350,380.7 353.6,384.3 350,387.9 346.4,384.3" fill="#000" stroke="#000" stroke-width="1.1"/>
<polygon points="353,411.6 356.6,415.2 353,418.8 349.4,415.2" fill="#000" stroke="#000" stroke-width="1.1"/>
<polygon points="359.5,427.05 363.1,430.65 359.5,434.25 355.9,430.65" fill="#000" stroke="#000" stroke-width="1.1"/>
<polygon points="362.5,457.95 366.1,461.55 362.5,465.15 358.9,461.55" fill="#000" stroke="#000" stroke-width="1.1"/>
<polygon points="368.5,473.4 372.1,477 368.5,480.6 364.9,477" fill="#000" stroke="#000" stroke-width="1.1"/>
<polyline points="300.5,322.5 330.8,322.5 330.8,368.85 334.2,368.85 334.2,430.65 337,430.65 337,461.55 340,461.55 340,477" fill="none" stroke="#000" stroke-width="1.2"/>
<circle cx="330.8" cy="368.85" r="3.11" fill="#000" stroke="#000" stroke-width="1.1"/>
<circle cx="334.2" cy="430.65" r="3.11" fill="#000" stroke="#000" stroke-width="1.1"/>
<circle cx="337" cy="461.55" r="3.11" fill="#000" stroke="#000" stroke-width="1.1"/>
<circle cx="340" cy="477" r="3.11" fill="#000" stroke="#000" stroke-width="1.1"/>
<polyline points="300.5,322.5 317.9,322.5 317.9,337.95 319.7,337.95 319.7,477" fill="none" stroke="#000" stroke-width="1.2"/>
<rect x="314.74" y="334.79" width="6.32" height="6.32" fill="#fff" stroke="#000" stroke-width="1.1"/>
<rect x="316.54" y="473.84" width="6.32" height="6.32" fill="#fff" stroke="#000" stroke-width="1.1"/>
<line x1="375" y1="377.3" x2="388.3" y2="377.3" stroke="#000" stroke-width="1.2" />
<rect x="378.4" y="374.3" width="6" height="6" fill="#fff" stroke="#000" stroke-width="1.1"/>
<text transform="translate(396.75,380.7) rotate(0.03) scale(1.012,1)" font-size="9.9" text-anchor="start" font-weight="normal" >Vehicle</text>
<line x1="375" y1="393.2" x2="388.3" y2="393.2" stroke="#000" stroke-width="1.2" />
<circle cx="381.4" cy="393.2" r="2.99" fill="#000" stroke="#000" stroke-width="1.1"/>
<text transform="translate(396.75,396.6) rotate(0.03) scale(1.012,1)" font-size="9.9" text-anchor="start" font-weight="normal" >RG7112 100 mg/kg QD</text>
<line x1="375" y1="408.8" x2="388.3" y2="408.8" stroke="#000" stroke-width="1.2" />
<polygon points="381.4,405.31 384.89,408.8 381.4,412.29 377.91,408.8" fill="#000" stroke="#000" stroke-width="1.1"/>
<text transform="translate(396.75,412.2) rotate(0.03) scale(1.012,1)" font-size="9.9" text-anchor="start" font-weight="normal" >Androgen (-)</text>
<line x1="375" y1="423.9" x2="388.3" y2="423.9" stroke="#000" stroke-width="1.2" />
<polygon points="381.4,420.08 385.22,423.9 381.4,427.72 377.58,423.9" fill="#fff" stroke="#000" stroke-width="1.1"/>
<text transform="translate(396.75,427.3) rotate(0.03) scale(1.012,1)" font-size="9.9" text-anchor="start" font-weight="normal" >Androgen (-) + RG7112</text>
<!-- frame -->
<rect x="0" y="0" width="520" height="1.6" fill="#5a5a5a"/>
<rect x="0" y="0" width="1.6" height="559" fill="#5a5a5a"/>
<rect x="518" y="0" width="2" height="559" fill="#5a5a5a"/>
<rect x="0" y="557" width="520" height="2" fill="#5a5a5a"/>
</svg>
</body></html>
